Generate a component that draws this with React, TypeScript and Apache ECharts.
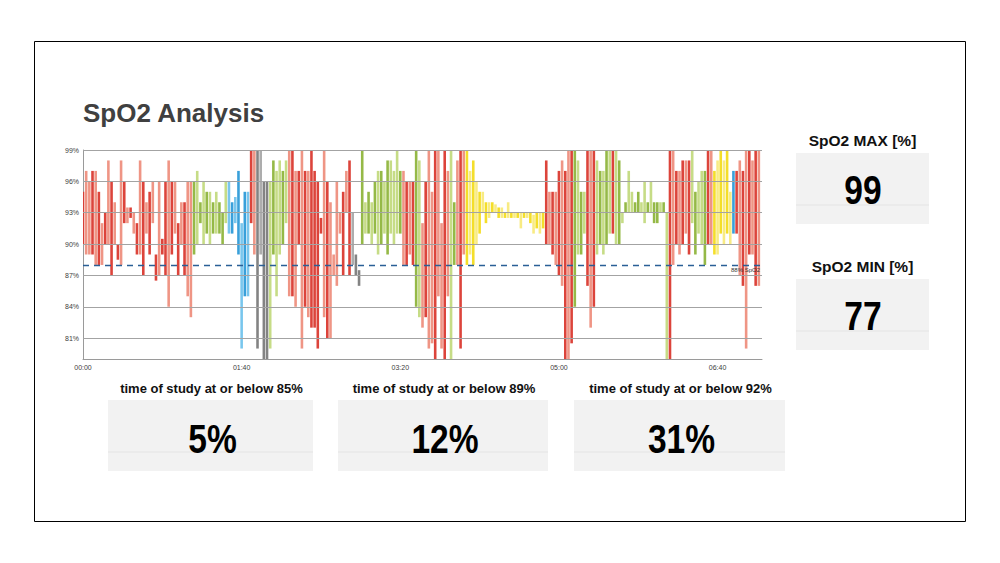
import React, { useEffect, useRef } from "react";
import * as echarts from "echarts";

// Sampling step of the SpO2 trace (minutes per bar)
const STEP = 2;

// Lower / upper SpO2 of each bar (%)
const spo2Low = [
  90, 89, 89, 89, 88, 88, 88, 90, 90, 87, 90, 88.5, 88, 92, 92, 92.5, 91, 89, 89, 87,
  91, 89, 92, 86.5, 87, 89, 87, 84, 89, 91, 87, 90, 87, 85, 83,
  89, 90, 92, 90, 91, 90, 91, 91, 91, 90, 92,
  91, 91, 92, 89, 80, 85, 85,
  92, 89, 80, 89, 79, 79,
  80, 89, 85, 89, 90, 92,
  85, 85, 84, 90, 80, 84, 83, 82, 82, 80, 91, 83, 81, 81, 87, 86, 91, 87, 93, 87,
  88, 87, 86,
  90, 91, 91, 90, 91, 89, 90, 91, 89, 91, 90, 91, 91,
  88, 88, 89, 88, 84, 83,
  82, 83, 80, 80.5, 79, 85, 80, 79, 85, 79, 88, 88, 80, 89,
  88, 89, 88, 90, 91, 93, 92, 92.5, 93, 93, 92.5, 92.5, 92.5, 92.5, 92.5, 92.5, 92.5, 91.5, 92.5, 92.5, 92, 91, 91.5, 91, 91.5,
  90, 90, 89, 88, 87, 86, 79, 79, 80.5,
  84, 89, 89, 91,
  86, 82, 84,
  89, 90, 89, 90, 91, 91, 90, 90,
  92, 93, 93, 93, 93, 93, 93, 92, 93, 93, 92, 92, 93, 93, 79,
  79, 88, 90, 89, 90, 91, 89,
  92, 89, 91, 90, 88,
  90, 90,
  89, 89, 91, 90, 91, 90,
  91,
  91, 87, 86, 80, 89, 89, 86, 86,
];
const spo2High = [
  95, 97, 96, 97, 97, 95, 92, 93, 98, 96, 94, 90, 98, 96, 93.5, 93.5, 93, 92, 98, 96,
  94, 95, 96, 89, 96, 90.5, 96, 98, 96, 96, 92, 94, 94, 96, 96,
  96, 97, 94, 96, 95, 95, 94, 95, 94, 93, 96,
  96, 94, 94.5, 97, 92, 95, 95,
  99, 99, 99, 99, 96, 96,
  96, 98, 97, 98, 97, 98,
  99, 99, 97, 97, 99, 97, 97, 99, 97, 96, 92.5, 99, 96, 94, 89, 96, 93, 95, 97, 98,
  93, 89, 87.5,
  99, 94, 95, 94, 96, 97, 97, 96, 98, 98, 97, 99, 97,
  97, 96, 96, 96, 99, 98,
  92, 96, 99, 95, 99, 99, 92, 99, 97, 99, 94, 98, 99, 99,
  99, 97, 98, 96, 95, 95, 94, 94, 94, 93.8, 93.5, 93.5, 93, 94, 93, 93, 93, 93, 93, 93, 93, 92.8, 93, 93, 93,
  98, 95, 95, 95, 97, 98, 97, 99, 99,
  99, 98, 95, 95,
  99, 99, 99,
  98, 97, 97, 99, 99, 99, 99, 98,
  93, 94, 97, 95, 94, 95, 94, 96, 94, 96, 94, 94, 94, 94, 93,
  99, 99, 97, 97, 98, 98, 98,
  99, 95, 96, 97, 97,
  99, 99,
  97, 98, 99, 98, 99, 95,
  97,
  97, 98, 97, 99, 99, 98, 99, 99,
];
// Colour group of each bar (upper case = darker shade)
const stage = [
  "R", "r", "r", "R", "r", "R", "r", "R", "r", "R", "r", "R", "r", "R", "r", "R", "r", "R", "r", "R",
  "r", "R", "r", "R", "r", "R", "R", "r", "R", "r", "R", "r", "R", "r", "r",
  "G", "g", "G", "g", "G", "g", "G", "g", "G", "G", "g",
  "b", "B", "b", "B", "b", "B", "b",
  "R", "r", "K", "k", "K", "K",
  "g", "G", "g", "g", "G", "g",
  "r", "R", "r", "R", "r", "R", "r", "R", "R", "R", "R", "r", "R", "r", "r", "r", "r", "R", "r", "R",
  "k", "K", "K",
  "G", "g", "G", "g", "G", "g", "G", "g", "G", "g", "g", "g", "G",
  "r", "R", "r", "R", "G", "g",
  "r", "R", "r", "r", "R", "r", "r", "R", "r", "g", "G", "r", "R", "r",
  "Y", "y", "Y", "y", "Y", "y", "Y", "y", "Y", "y", "Y", "y", "Y", "y", "Y", "y", "Y", "y", "Y", "y", "Y", "y", "Y", "y", "Y",
  "R", "r", "R", "r", "R", "r", "R", "r", "R",
  "G", "g", "G", "g",
  "R", "r", "R",
  "g", "G", "g", "G", "g", "R", "g", "G",
  "g", "G", "g", "g", "G", "G", "g", "g", "G", "g", "G", "G", "g", "G", "g",
  "R", "r", "R", "r", "R", "r", "R",
  "g", "G", "g", "g", "G",
  "R", "r",
  "Y", "y", "Y", "y", "Y", "y",
  "B",
  "R", "r", "R", "r", "R", "r", "R", "r",
];

const yTicks = [81, 84, 87, 90, 93, 96, 99];
const xMax = 428; // minutes shown on the time axis
const desatThreshold = 88;

const kpiMax = { label: "SpO2 MAX [%]", value: "99" };
const kpiMin = { label: "SpO2 MIN [%]", value: "77" };
const timeBelowLabels = [
  "time of study at or below 85%",
  "time of study at or below 89%",
  "time of study at or below 92%",
];
const timeBelowValues = ["5%", "12%", "31%"];

const COLORS: Record<string, string> = {
  R: "#da3a30",
  r: "#ee8f7e",
  G: "#8fb53d",
  g: "#c3da80",
  B: "#2e9bd8",
  b: "#72c3ec",
  K: "#7c7c7c",
  k: "#a9a9a9",
  Y: "#f3dc1f",
  y: "#f8ea7c",
};

const FONT = "Liberation Sans, Arial, Helvetica, sans-serif";

function fmtTime(m: number) {
  const h = Math.floor(m / 60);
  const mm = Math.round(m % 60);
  return String(h).padStart(2, "0") + ":" + String(mm).padStart(2, "0");
}

function label(x: number, y: number, text: string, size: number) {
  return {
    type: "text",
    x,
    y,
    style: {
      text,
      align: "center",
      verticalAlign: "middle",
      textAlign: "center",
      textVerticalAlign: "middle",
      font: `bold ${size}px ${FONT}`,
      fill: "#111",
    },
  };
}

function bigNumber(x: number, y: number, text: string) {
  return {
    type: "text",
    x,
    y,
    scaleX: 0.84,
    style: {
      text,
      align: "center",
      verticalAlign: "middle",
      textAlign: "center",
      textVerticalAlign: "middle",
      font: `bold 40px ${FONT}`,
      fill: "#000",
    },
  };
}

function card(x: number, y: number, w: number, h: number, sepY: number) {
  return [
    { type: "rect", shape: { x, y, width: w, height: h }, style: { fill: "#f2f2f2" } },
    {
      type: "line",
      shape: { x1: x, y1: sepY, x2: x + w, y2: sepY },
      style: { stroke: "#e4e4e4", lineWidth: 1 },
    },
  ];
}

export default function App() {
  const ref = useRef<HTMLDivElement>(null);

  useEffect(() => {
    if (!ref.current) return;
    const chart = echarts.init(ref.current, undefined, { renderer: "svg" });

    const data = spo2Low.map((lo, i) => [i * STEP, lo, spo2High[i]]);

    const bottomCards = [
      { x: 108, w: 205 },
      { x: 338, w: 210 },
      { x: 574, w: 211 },
    ];

    const graphics: any[] = [
      {
        type: "rect",
        shape: { x: 34.5, y: 41.5, width: 931, height: 480 },
        style: { fill: "none", stroke: "#000", lineWidth: 1 },
      },
      {
        type: "text",
        x: 83,
        y: 113,
        style: {
          text: "SpO2 Analysis",
          align: "left",
          verticalAlign: "middle",
          textAlign: "left",
          textVerticalAlign: "middle",
          font: `bold 26px ${FONT}`,
          fill: "#404040",
        },
      },
      ...card(796, 153, 133, 71, 205),
      ...card(796, 279, 133, 71, 331),
      label(862.5, 140, kpiMax.label, 15.5),
      label(862.5, 266, kpiMin.label, 15.5),
      bigNumber(863, 190, kpiMax.value),
      bigNumber(863, 316, kpiMin.value),
    ];
    bottomCards.forEach((c, i) => {
      graphics.push(...card(c.x, 400, c.w, 71, 452));
      graphics.push(label(c.x + c.w / 2 + 1, 388, timeBelowLabels[i], 13));
      graphics.push(bigNumber(c.x + c.w / 2 + 2, 439, timeBelowValues[i]));
    });

    chart.setOption({
      animation: false,
      backgroundColor: "#fff",
      grid: { left: 83, top: 150, width: 679, height: 209 },
      xAxis: {
        type: "value",
        min: 0,
        max: xMax,
        interval: 100,
        axisLine: { show: true, lineStyle: { color: "#9a9a9a", width: 1 } },
        axisTick: { show: false },
        splitLine: { show: false },
        axisLabel: {
          formatter: (v: number) => fmtTime(v),
          showMaxLabel: false,
          fontSize: 7,
          color: "#404040",
          fontFamily: FONT,
          margin: 5,
        },
      },
      yAxis: {
        type: "value",
        min: 79,
        max: 99,
        interval: 1,
        axisLine: { show: true, lineStyle: { color: "#9a9a9a", width: 1 } },
        axisTick: { show: false },
        splitLine: { show: false },
        axisLabel: {
          formatter: (v: number) => (yTicks.indexOf(v) >= 0 ? v + "%" : ""),
          fontSize: 7,
          color: "#404040",
          fontFamily: FONT,
          margin: 4,
        },
      },
      graphic: graphics,
      series: [
        {
          type: "custom",
          z: 2,
          clip: true,
          data,
          encode: { x: 0, y: [1, 2] },
          renderItem: (params: any, api: any) => {
            const t = api.value(0);
            const lo = api.value(1);
            const hi = api.value(2);
            const p1 = api.coord([t, hi]);
            const p2 = api.coord([t, lo]);
            const w = 2.6;
            return {
              type: "rect",
              shape: { x: p1[0] - w / 2, y: p1[1], width: w, height: p2[1] - p1[1] },
              style: { fill: COLORS[stage[params.dataIndex]] || "#d33", opacity: 0.95 },
            };
          },
          markLine: {
            silent: true,
            symbol: "none",
            animation: false,
            data: [
              ...yTicks.map((v) => ({
                yAxis: v,
                lineStyle: { color: "#a3a3a3", width: 1.2, type: "solid" },
                label: { show: false },
              })),
              {
                yAxis: desatThreshold,
                lineStyle: { color: "#2a5f96", width: 1.4, type: [6, 5] },
                label: {
                  show: true,
                  position: "insideEndBottom",
                  formatter: "88% SpO2",
                  fontSize: 6,
                  color: "#333",
                  fontFamily: FONT,
                  distance: 2,
                },
              },
            ],
          },
        },
      ],
    });

    return () => chart.dispose();
  }, []);

  return (
    <div
      ref={ref}
      style={{ position: "absolute", left: 0, top: 0, width: 1000, height: 563, background: "#fff" }}
    />
  );
}
